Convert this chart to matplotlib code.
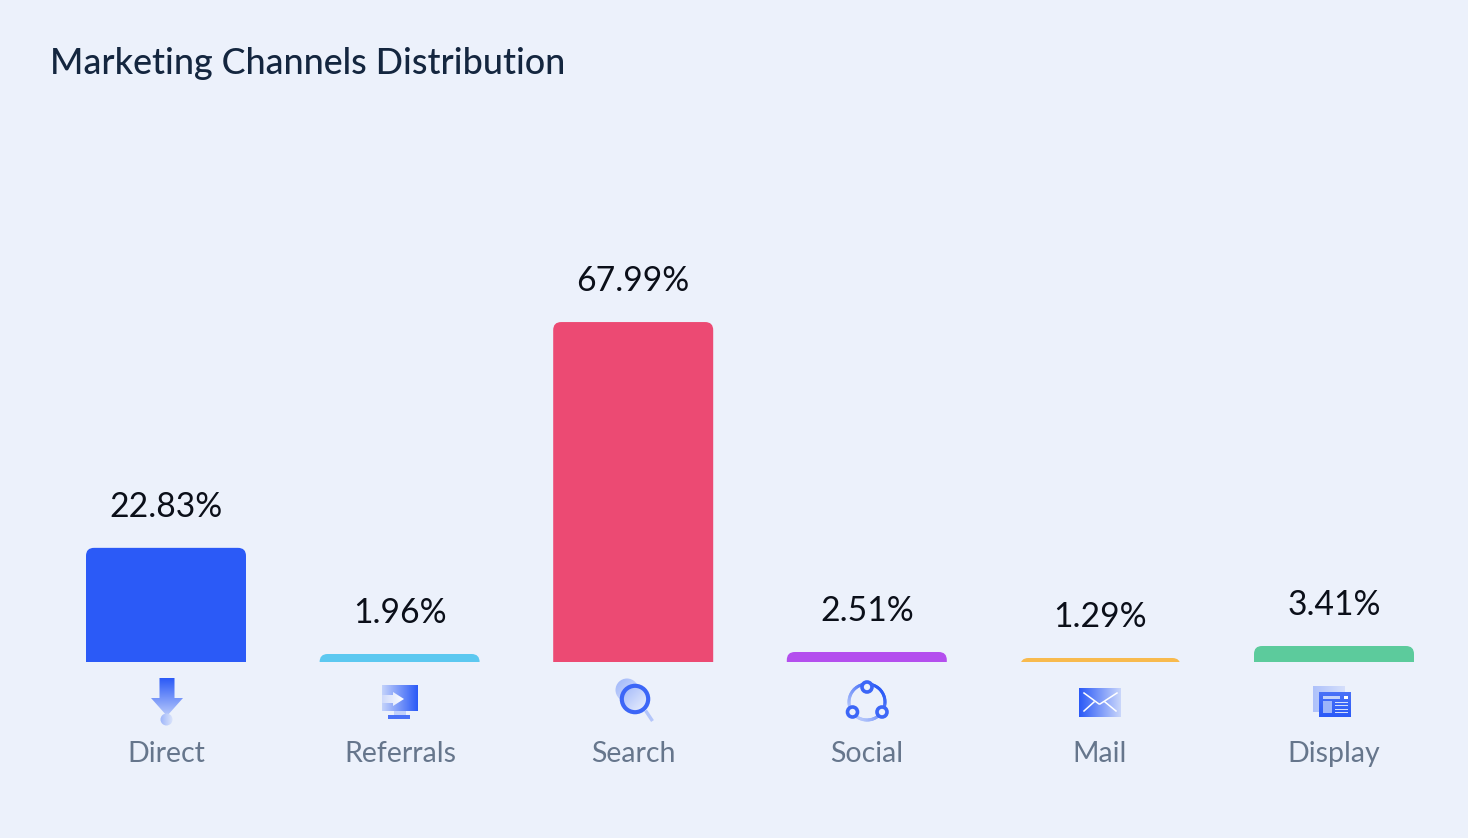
#! /usr/bin/env python
# Marketing channels bar chart with small gradient icons under each bar

import numpy as np
import matplotlib
matplotlib.use('Agg')
import matplotlib.pyplot as plt
from matplotlib.colors import LinearSegmentedColormap
from matplotlib.patches import Rectangle, Circle, Polygon, FancyBboxPatch

categories = ['Direct', 'Referrals', 'Search', 'Social', 'Mail', 'Display']
value_labels = ['22.83%', '1.96%', '67.99%', '2.51%', '1.29%', '3.41%']
# heights as measured on the bars
values = [22.83, 1.6, 67.99, 2.0, 0.8, 3.2]
colors = ['#2B5AF7', '#5CC8F0', '#EC4A73', '#B44FEE', '#F8BA4D', '#5CCB9C']

bg = '#ECF1FB'
W, H = 1468, 838
FONT = 'Lato'
BLUE = '#2B5AF7'
PALE = '#DCE5FB'

fig = plt.figure(figsize=(W/100., H/100.), dpi=100, facecolor=bg)

# main axes, baseline at y=662 px, 5 px per percent
left, right = 49.2, 1450.8
base, top = 662, 262
ax = fig.add_axes([left/W, 1-base/H, (right-left)/W, (base-top)/H])
ax.set_xlim(-0.5, 5.5)
ax.set_ylim(0, 80)
ax.axis('off')

xunit = (right-left)/6.
yunit = (base-top)/80.
bw = 160/xunit
for i, v in enumerate(values):
    # box runs below the baseline, the axes clip it so only the top is round
    p = FancyBboxPatch((i-bw/2, -5), bw, v+5, boxstyle='round,pad=0,rounding_size=%f' % (8/xunit),
                       mutation_aspect=xunit/yunit, fc=colors[i], ec='none')
    ax.add_patch(p)
    ax.annotate(value_labels[i], (i, v), xytext=(0, 41*0.72), textcoords='offset points',
                ha='center', va='center', fontsize=24.2, color='#0B0F19', family=FONT)

fig.text(50/W, 1-64/H, 'Marketing Channels Distribution', fontsize=25.85, color='#14263F',
         ha='left', va='center', family=FONT, fontweight='medium')

# overlay in pixel coords for icons and category names
ov = fig.add_axes([0, 0, 1, 1])
ov.set_xlim(0, W)
ov.set_ylim(H, 0)
ov.axis('off')
ov.patch.set_alpha(0)

def grad(patch, box, c1, c2, angle=0):
    # fill a patch with a linear gradient, angle 0 is left to right, 90 is top to bottom
    x0, x1, y0, y1 = box
    ov.add_patch(patch)
    patch.set_facecolor('none')
    patch.set_edgecolor('none')
    a = np.radians(angle)
    yy, xx = np.mgrid[0:1:64j, 0:1:64j]
    z = xx*np.cos(a) + yy*np.sin(a)
    cm = LinearSegmentedColormap.from_list('g', [c1, c2])
    im = ov.imshow(z, extent=(x0, x1, y1, y0), cmap=cm, aspect='auto', zorder=patch.get_zorder(), origin='upper')
    im.set_clip_path(patch)
    ov.set_xlim(0, W)
    ov.set_ylim(H, 0)

def rect(x0, y0, x1, y1):
    return Rectangle((x0, y0), x1-x0, y1-y0)

# Direct
grad(Polygon([(159.5, 678), (174.5, 678), (174.5, 698), (183, 698), (167, 716), (151, 698), (159.5, 698)]),
     (151, 183, 678, 716), BLUE, '#B9CAFB', 90)
grad(Circle((166.5, 719.5), 6), (160, 173, 713, 726), '#9DB5FA', PALE, 0)

# Referrals
grad(rect(382, 685, 418, 711), (382, 418, 685, 711), '#C3D2FB', BLUE, 0)
grad(Polygon([(382, 695), (393, 695), (393, 692), (404, 699), (393, 706), (393, 703), (382, 703)]),
     (382, 404, 690, 708), '#CFDAFB', '#FFFFFF', 0)
grad(rect(394, 711, 406, 715), (394, 406, 711, 715), '#C3D2FB', '#C3D2FB', 0)
grad(rect(388, 715, 410, 719), (388, 410, 715, 719), '#4A72F8', '#4A72F8', 0)

# Search
grad(Circle((627, 690), 11.5), (615, 639, 678, 702), '#9DB5FA', PALE, 45)
grad(Circle((635, 699), 13.5), (621, 649, 685, 713), '#9DB5FA', '#F2F5FD', 45)
ov.add_patch(Circle((635, 699), 13.2, fc='none', ec='#3C66F7', lw=3))
ov.plot([645.5, 652.5], [710.5, 721], color='#B4C6FA', lw=2.4, solid_capstyle='butt')

# Social
t = np.radians(np.arange(0, 361, 6))
ring = LinearSegmentedColormap.from_list('r', [BLUE, '#B9CAFB'])
for a, b in zip(t[:-1], t[1:]):
    frac = 0.5 + 0.5*np.sin(a - np.pi/4)
    ov.plot([867+18*np.cos(a), 867+18*np.cos(b)], [702+18*np.sin(a), 702+18*np.sin(b)],
            color=ring(frac), lw=2.2, solid_capstyle='round')
for cx, cy in [(867, 687), (852.5, 712), (882, 712)]:
    ov.add_patch(Circle((cx, cy), 5, fc=bg, ec='#3C66F7', lw=2.6, zorder=4))

# Mail
grad(rect(1079, 688, 1121, 717), (1079, 1121, 688, 717), BLUE, '#C9D6FB', 0)
ov.plot([1084, 1099, 1100, 1117], [693, 704, 704, 693], color='white', lw=1.1)
ov.plot([1084, 1094], [711, 702], color='white', lw=1.1)
ov.plot([1116, 1105], [711, 702], color='white', lw=1.1)

# Display
grad(rect(1313, 686, 1345, 712), (1313, 1345, 686, 712), '#AEC1FA', '#D5DFFB', 0)
grad(rect(1319, 692, 1351, 717), (1319, 1351, 692, 717), '#4A72F8', BLUE, 90)
ov.add_patch(Rectangle((1323, 696), 17, 3, fc='#C3D2FB', ec='none', zorder=5))
ov.add_patch(Rectangle((1344, 696), 4, 3, fc='white', ec='none', zorder=5))
ov.add_patch(Rectangle((1323, 701), 9, 12, fc='#9DB5FA', ec='none', zorder=5))
for yy in [701.5, 705, 708.5, 712]:
    ov.add_patch(Rectangle((1335, yy), 13, 1.2, fc='#D5DFFB', ec='none', zorder=5))

xc = [166.5, 400, 633.5, 867, 1100, 1333.5]
for i, c in enumerate(categories):
    ov.text(xc[i], 754, c, fontsize=20.5, color='#66768C', ha='center', va='center', family=FONT)

fig.savefig('out.png', dpi=100, facecolor=bg)
